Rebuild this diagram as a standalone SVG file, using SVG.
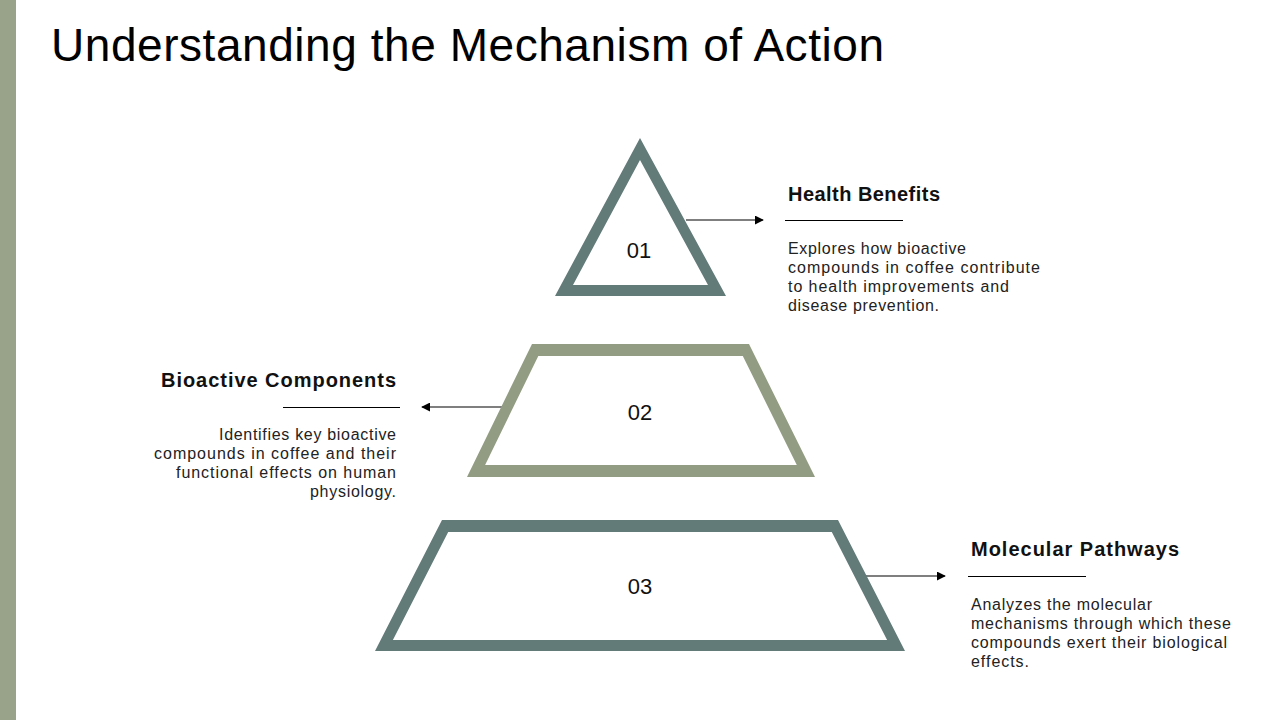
<svg xmlns="http://www.w3.org/2000/svg" width="1280" height="720" viewBox="0 0 1280 720">
<defs>
<marker id="arr" viewBox="0 0 10 10" refX="9" refY="5" markerWidth="9" markerHeight="9" markerUnits="userSpaceOnUse" orient="auto">
<path d="M0,0 L10,5 L0,10 Z" fill="#000"/>
</marker>
<style>
.title{font-family:"Liberation Sans","DejaVu Sans",sans-serif;font-size:46px;fill:#000}
.num{font-family:"Liberation Sans",sans-serif;font-size:22px;fill:#111;text-anchor:middle}
.head{font-family:"Liberation Sans",sans-serif;font-size:20px;font-weight:bold;fill:#111}
.body{font-family:"Liberation Sans",sans-serif;font-size:16px;fill:#222}
.rule{stroke:#000;stroke-width:1}
.conn{stroke:#000;stroke-width:1.2;fill:none;marker-end:url(#arr)}
.dark{fill:#627a78;fill-rule:evenodd}
.light{fill:#929c82;fill-rule:evenodd}
</style>
</defs>
<rect x="0" y="0" width="1280" height="720" fill="#fff"/>
<rect x="0" y="0" width="16" height="720" fill="#98a38a"/>
<text class="title" x="51" y="61" textLength="833" lengthAdjust="spacing">Understanding the Mechanism of Action</text>

<g id="connectors">
<line class="conn" x1="686" y1="220" x2="763" y2="220"/>
<line class="conn" x1="503" y1="407" x2="422" y2="407"/>
<line class="conn" x1="866" y1="576" x2="945" y2="576"/>
</g>

<g id="node-01">
<path class="dark" d="M640,138 L726,296 L555,296 Z M640,160 L573,285 L708,285 Z"/>
<text class="num" x="639" y="258">01</text>
</g>

<g id="node-02">
<path class="light" d="M532,344 L749,344 L815,477 L467,477 Z M538.3,356 L485.1,465 L796.8,465 L742.8,356 Z"/>
<text class="num" x="640" y="420">02</text>
</g>

<g id="node-03">
<path class="dark" d="M442,520 L838,520 L905,651 L375,651 Z M448.2,532 L392.9,640 L887.1,640 L831.8,532 Z"/>
<text class="num" x="640" y="594">03</text>
</g>

<g id="label-health">
<text class="head" x="788" y="201" textLength="152" lengthAdjust="spacing">Health Benefits</text>
<line class="rule" x1="785" y1="220.5" x2="903" y2="220.5"/>
<text class="body" x="788" y="254" textLength="178" lengthAdjust="spacing">Explores how bioactive</text>
<text class="body" x="788" y="273" textLength="252" lengthAdjust="spacing">compounds in coffee contribute</text>
<text class="body" x="788" y="292" textLength="221" lengthAdjust="spacing">to health improvements and</text>
<text class="body" x="788" y="311" textLength="151" lengthAdjust="spacing">disease prevention.</text>
</g>

<g id="label-bioactive" text-anchor="end">
<text class="head" x="396" y="387" textLength="235" lengthAdjust="spacing">Bioactive Components</text>
<line class="rule" x1="283" y1="407.5" x2="400" y2="407.5"/>
<text class="body" x="396" y="440" textLength="177" lengthAdjust="spacing">Identifies key bioactive</text>
<text class="body" x="396" y="459" textLength="242" lengthAdjust="spacing">compounds in coffee and their</text>
<text class="body" x="396" y="478" textLength="220" lengthAdjust="spacing">functional effects on human</text>
<text class="body" x="396" y="497" textLength="86" lengthAdjust="spacing">physiology.</text>
</g>

<g id="label-molecular">
<text class="head" x="971" y="556" textLength="208" lengthAdjust="spacing">Molecular Pathways</text>
<line class="rule" x1="968" y1="576.5" x2="1086" y2="576.5"/>
<text class="body" x="971" y="610" textLength="181" lengthAdjust="spacing">Analyzes the molecular</text>
<text class="body" x="971" y="629" textLength="260" lengthAdjust="spacing">mechanisms through which these</text>
<text class="body" x="971" y="648" textLength="256" lengthAdjust="spacing">compounds exert their biological</text>
<text class="body" x="971" y="667" textLength="58" lengthAdjust="spacing">effects.</text>
</g>
</svg>
